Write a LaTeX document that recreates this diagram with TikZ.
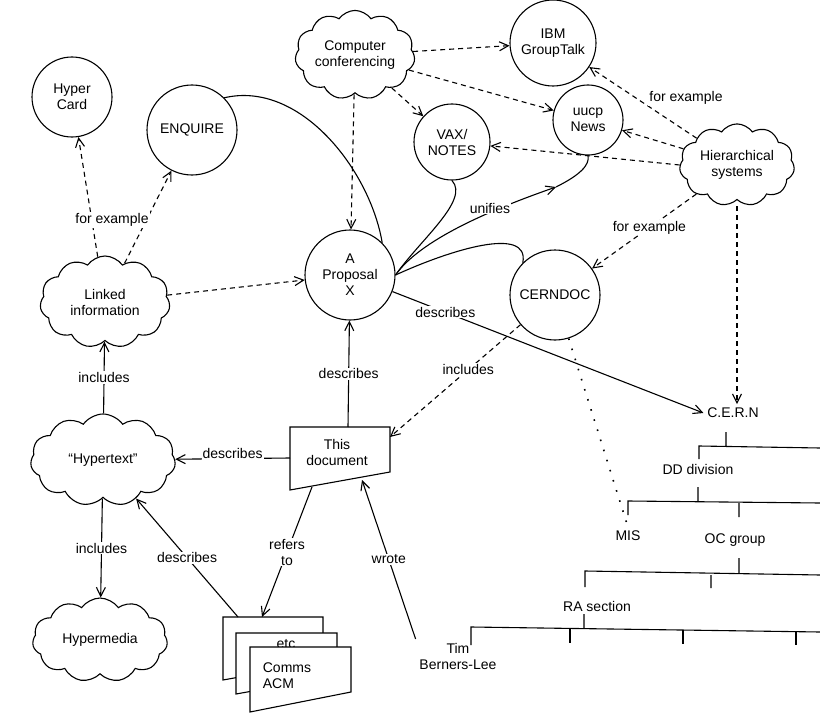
\documentclass[tikz,border=0pt]{standalone}
\usepackage{fontspec}
\setmainfont{Liberation Sans}
\usetikzlibrary{arrows.meta,shapes.symbols,positioning}
\begin{document}
\begin{tikzpicture}[x=1pt,y=-1pt,>={Straight Barb[length=9pt,width=9pt]},
  font=\fontsize{14}{16}\selectfont, line width=1.1pt,
  circ/.style = {draw,circle,align=center,inner sep=0pt},
  cld/.style = {draw,cloud,cloud puffs=11,cloud puff arc=110,aspect=1.5,align=center,inner sep=0pt},
  dsh/.style = {->,dashed,dash pattern=on 5pt off 4pt},
  sol/.style = {->},
  lbl/.style = {fill=white,inner sep=1pt}]
\useasboundingbox (0,0) rectangle (820,717);

\node[circ,minimum size=80pt] (card) at (72,97) {Hyper\\Card};
\node[circ,minimum size=90pt] (enq) at (192,130) {ENQUIRE};
\node[cld,minimum width=118pt,minimum height=78pt] (conf) at (355,55) {Computer\\conferencing};
\node[circ,minimum size=86pt] (ibm) at (553,43) {IBM\\GroupTalk};
\node[circ,minimum size=70pt] (uucp) at (588,120) {uucp\\News};
\node[circ,minimum size=76pt] (vax) at (452,142) {VAX/\\NOTES};
\node[cld,minimum width=115pt,minimum height=82pt] (hier) at (737,165) {Hierarchical\\systems};
\node[cld,minimum width=130pt,minimum height=92pt] (linked) at (105,302) {Linked\\information};
\node[circ,minimum size=90pt] (prop) at (350,275) {A\\Proposal\\X};
\node[circ,minimum size=90pt] (cerndoc) at (555,295) {CERNDOC};
\node[cld,minimum width=145pt,minimum height=92pt] (hyper) at (103,460) {``Hypertext''};
\node[cld,minimum width=135pt,minimum height=82pt] (media) at (100,640) {Hypermedia};

% this document
\node[align=center] (doc) at (337,452) {This\\document};
\draw (290,427) -- (390,427) -- (390,472) -- (290,490) -- cycle;
\coordinate (doctop) at (348,427);
\coordinate (docleft) at (290,458);
\coordinate (docright) at (390,437);
\coordinate (docbot) at (312,487);
\coordinate (docbr) at (362,480);

% stack of papers
\draw[fill=white] (223,617) -- (323,617) -- (323,662) -- (223,680) -- cycle;
\draw[fill=white] (236,633) -- (337,633) -- (337,676) -- (236,694) -- cycle;
\node at (286,644) {etc};
\draw[fill=white] (250,647) -- (351,647) -- (351,692) -- (250,712) -- cycle;
\node[align=left] (acm) at (287,676) {Comms\\ACM};
\coordinate (stacktop) at (262,617);
\coordinate (stackleft) at (238,617);

\node[align=center] (tim) at (458,656) {Tim\\Berners-Lee};
\node (cern) at (733,413) {C.E.R.N};
\node (dd) at (698,469) {DD division};
\node (mis) at (628,536) {MIS};
\node (oc) at (735,540) {OC group};
\node (ra) at (597,606) {RA section};

% organisation tree
\draw (726,432) -- (726,446) (699,459) -- (699,446) -- (820,448);
\draw (698,487) -- (698,502) (628,515) -- (628,501) -- (820,503) (739,503) -- (739,517);
\draw (739,558) -- (739,573) (585,587) -- (585,571) -- (820,575) (711,575) -- (711,588);
\draw (584,614) -- (584,628) (471,645) -- (471,627) -- (820,632);
\foreach \tx/\ty in {570/629,683/630,796/631} \draw (\tx,\ty) -- (\tx,\ty+14);

% dashed links
\draw[dsh] (conf) -- (ibm);
\draw[dsh] (conf) -- (uucp);
\draw[dsh] (conf) -- (vax);
\draw[dsh] (conf) -- (prop);
\draw[dsh] (hier) -- (ibm);
\node[lbl] (fe1) at (686,98) {for example};
\draw[dsh] (hier) -- (uucp);
\draw[dsh] (hier.west) -- (vax);
\draw[dsh] (hier) -- node[lbl,pos=0.45] {for example} (cerndoc);
\draw[dsh] (737,206) -- (cern.north -| 737,0);
\draw[dsh] (linked) -- (card);
\draw[dsh] (linked) -- (enq);
\node[lbl] (fe) at (112,220) {for example};
\draw[dsh] (linked) -- (prop);
\draw[dsh] (cerndoc) -- node[lbl,pos=0.4] {includes} (docright);
\draw[dotted,line width=1.6pt,dash pattern=on 1.6pt off 9pt] (cerndoc) -- (mis.north);

% solid links
\draw (enq.north east) .. controls (300,80) and (370,170) .. (prop.north east);
\draw (vax.south) .. controls (470,200) and (420,240) .. (prop.east);
\draw[sol] (prop.east) .. controls (420,240) and (490,210) .. (556,187);
\draw (556,187) .. controls (580,175) and (590,165) .. (uucp.south);
\node[lbl] (un) at (490,208) {unifies};
\draw (prop.east) .. controls (450,250) and (530,225) .. (cerndoc.north west);
\draw[sol] (prop) -- node[lbl,pos=0.17] {describes} (cern.west);
\draw[sol] (hyper) -- node[lbl] {includes} (linked);
\draw[sol] (hyper) -- node[lbl] {includes} (media);
\draw[sol] (doctop) -- node[lbl] {describes} (prop);
\draw[sol] (docleft) -- node[lbl,above=-2pt] {describes} (hyper);
\draw[sol] (docbot) -- node[lbl,align=center] {refers\\to} (stacktop);
\draw[sol] (stackleft) -- node[lbl] {describes} (hyper);
\draw[sol] (tim.north west) -- node[lbl] {wrote} (docbr);
\end{tikzpicture}
\end{document}
